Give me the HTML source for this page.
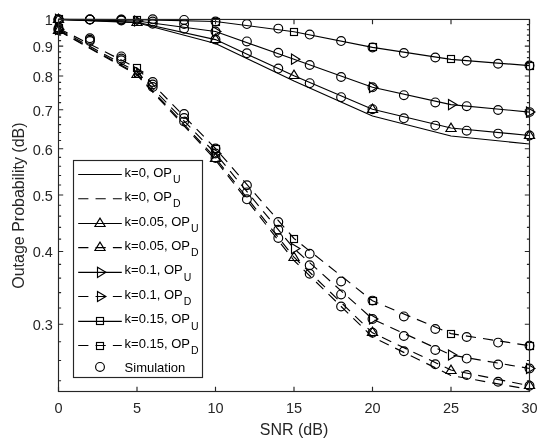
<!DOCTYPE html>
<html><head><meta charset="utf-8"><style>
html,body{margin:0;padding:0;background:#fff;}
body{width:550px;height:446px;overflow:hidden;}
svg{display:block;}
text{font-family:"Liberation Sans",Arial,sans-serif;fill:#262626;}
.tk{font-size:14.5px;}
.lg{font-size:13px;fill:#000;}
.lb{font-size:16px;}
</style></head><body>
<svg width="550" height="446" viewBox="0 0 550 446">
<rect width="550" height="446" fill="#fff"/>
<g fill="none" stroke="#000" stroke-width="1.15" stroke-linejoin="round">
<polyline points="58.50,19.40 137.00,19.60 215.50,21.50 294.00,31.70 372.50,47.40 451.00,59.40 529.50,65.60"/><polyline points="58.50,19.40 137.00,21.00 215.50,31.50 294.00,59.20 372.50,87.30 451.00,104.60 529.50,112.10"/><polyline points="58.50,19.40 137.00,22.20 215.50,39.60 294.00,75.80 372.50,109.20 451.00,128.00 529.50,135.50"/><polyline points="58.50,19.40 137.00,22.80 215.50,43.50 294.00,81.00 372.50,116.00 451.00,136.00 529.50,144.00"/>
</g>
<g fill="none" stroke="#000" stroke-width="1.15" stroke-dasharray="10.2 7.14" stroke-linejoin="round">
<polyline stroke-dashoffset="0.00" points="58.50,28.30 137.00,68.00 215.50,148.50 294.00,238.50 372.50,300.80 451.00,333.60 529.50,345.70"/><polyline stroke-dashoffset="0.00" points="58.50,29.30 137.00,72.00 215.50,153.50 294.00,248.60 372.50,319.00 451.00,355.00 529.50,368.50"/><polyline stroke-dashoffset="0.00" points="58.50,30.30 137.00,74.00 215.50,158.00 294.00,257.20 372.50,332.80 451.00,370.00 529.50,385.70"/><polyline stroke-dashoffset="0.00" points="58.50,30.80 137.00,75.00 215.50,160.00 294.00,260.50 372.50,337.00 451.00,375.50 529.50,389.50"/>
</g>
<g fill="none" stroke="#000" stroke-width="1.15">
<rect x="55.50" y="15.50" width="7" height="7"/><rect x="133.50" y="16.50" width="7" height="7"/><rect x="212.50" y="18.50" width="7" height="7"/><rect x="290.50" y="28.50" width="7" height="7"/><rect x="369.50" y="43.50" width="7" height="7"/><rect x="447.50" y="55.50" width="7" height="7"/><rect x="526.50" y="62.50" width="7" height="7"/><polygon points="63.90,19.40 55.50,14.30 55.50,24.50"/><polygon points="142.90,21.00 134.50,15.90 134.50,26.10"/><polygon points="220.90,31.50 212.50,26.40 212.50,36.60"/><polygon points="299.90,59.20 291.50,54.10 291.50,64.30"/><polygon points="377.90,87.30 369.50,82.20 369.50,92.40"/><polygon points="456.90,104.60 448.50,99.50 448.50,109.70"/><polygon points="534.90,112.10 526.50,107.00 526.50,117.20"/><polygon points="58.50,14.10 53.40,22.50 63.60,22.50"/><polygon points="137.00,17.10 131.90,25.50 142.10,25.50"/><polygon points="215.50,34.10 210.40,42.50 220.60,42.50"/><polygon points="294.00,70.10 288.90,78.50 299.10,78.50"/><polygon points="372.50,104.10 367.40,112.50 377.60,112.50"/><polygon points="451.00,123.10 445.90,131.50 456.10,131.50"/><polygon points="529.50,130.10 524.40,138.50 534.60,138.50"/><rect x="55.50" y="24.50" width="7" height="7"/><rect x="133.50" y="64.50" width="7" height="7"/><rect x="212.50" y="145.50" width="7" height="7"/><rect x="290.50" y="235.50" width="7" height="7"/><rect x="369.50" y="297.50" width="7" height="7"/><rect x="447.50" y="330.50" width="7" height="7"/><rect x="526.50" y="342.50" width="7" height="7"/><polygon points="63.90,29.30 55.50,24.20 55.50,34.40"/><polygon points="142.90,72.00 134.50,66.90 134.50,77.10"/><polygon points="220.90,153.50 212.50,148.40 212.50,158.60"/><polygon points="299.90,248.60 291.50,243.50 291.50,253.70"/><polygon points="377.90,319.00 369.50,313.90 369.50,324.10"/><polygon points="456.90,355.00 448.50,349.90 448.50,360.10"/><polygon points="534.90,368.50 526.50,363.40 526.50,373.60"/><polygon points="58.50,25.10 53.40,33.50 63.60,33.50"/><polygon points="137.00,69.10 131.90,77.50 142.10,77.50"/><polygon points="215.50,153.10 210.40,161.50 220.60,161.50"/><polygon points="294.00,252.10 288.90,260.50 299.10,260.50"/><polygon points="372.50,327.10 367.40,335.50 377.60,335.50"/><polygon points="451.00,365.10 445.90,373.50 456.10,373.50"/><polygon points="529.50,380.10 524.40,388.50 534.60,388.50"/><circle cx="58.50" cy="19.40" r="4.4"/><circle cx="89.90" cy="19.50" r="4.4"/><circle cx="121.30" cy="19.50" r="4.4"/><circle cx="152.70" cy="19.30" r="4.4"/><circle cx="184.10" cy="19.90" r="4.4"/><circle cx="215.50" cy="21.50" r="4.4"/><circle cx="246.90" cy="24.10" r="4.4"/><circle cx="278.30" cy="28.60" r="4.4"/><circle cx="309.70" cy="34.60" r="4.4"/><circle cx="341.10" cy="41.10" r="4.4"/><circle cx="372.50" cy="47.40" r="4.4"/><circle cx="403.90" cy="53.00" r="4.4"/><circle cx="435.30" cy="57.50" r="4.4"/><circle cx="466.70" cy="60.70" r="4.4"/><circle cx="498.10" cy="63.70" r="4.4"/><circle cx="529.50" cy="65.60" r="4.4"/><circle cx="58.50" cy="19.40" r="4.4"/><circle cx="89.90" cy="19.50" r="4.4"/><circle cx="121.30" cy="19.70" r="4.4"/><circle cx="152.70" cy="21.50" r="4.4"/><circle cx="184.10" cy="24.00" r="4.4"/><circle cx="215.50" cy="31.50" r="4.4"/><circle cx="246.90" cy="41.40" r="4.4"/><circle cx="278.30" cy="52.80" r="4.4"/><circle cx="309.70" cy="65.00" r="4.4"/><circle cx="341.10" cy="77.00" r="4.4"/><circle cx="372.50" cy="87.30" r="4.4"/><circle cx="403.90" cy="95.20" r="4.4"/><circle cx="435.30" cy="102.40" r="4.4"/><circle cx="466.70" cy="106.20" r="4.4"/><circle cx="498.10" cy="110.00" r="4.4"/><circle cx="529.50" cy="112.10" r="4.4"/><circle cx="58.50" cy="19.40" r="4.4"/><circle cx="89.90" cy="19.50" r="4.4"/><circle cx="121.30" cy="20.50" r="4.4"/><circle cx="152.70" cy="23.70" r="4.4"/><circle cx="184.10" cy="28.80" r="4.4"/><circle cx="215.50" cy="39.60" r="4.4"/><circle cx="246.90" cy="53.20" r="4.4"/><circle cx="278.30" cy="68.60" r="4.4"/><circle cx="309.70" cy="83.20" r="4.4"/><circle cx="341.10" cy="97.20" r="4.4"/><circle cx="372.50" cy="109.20" r="4.4"/><circle cx="403.90" cy="118.30" r="4.4"/><circle cx="435.30" cy="125.60" r="4.4"/><circle cx="466.70" cy="130.70" r="4.4"/><circle cx="498.10" cy="133.60" r="4.4"/><circle cx="529.50" cy="135.50" r="4.4"/><circle cx="58.50" cy="28.30" r="4.4"/><circle cx="89.90" cy="38.20" r="4.4"/><circle cx="121.30" cy="56.40" r="4.4"/><circle cx="152.70" cy="82.00" r="4.4"/><circle cx="184.10" cy="114.00" r="4.4"/><circle cx="215.50" cy="148.50" r="4.4"/><circle cx="246.90" cy="185.20" r="4.4"/><circle cx="278.30" cy="222.00" r="4.4"/><circle cx="309.70" cy="253.70" r="4.4"/><circle cx="341.10" cy="281.50" r="4.4"/><circle cx="372.50" cy="300.60" r="4.4"/><circle cx="403.90" cy="316.40" r="4.4"/><circle cx="435.30" cy="329.00" r="4.4"/><circle cx="466.70" cy="337.00" r="4.4"/><circle cx="498.10" cy="342.60" r="4.4"/><circle cx="529.50" cy="345.70" r="4.4"/><circle cx="58.50" cy="29.30" r="4.4"/><circle cx="89.90" cy="39.70" r="4.4"/><circle cx="121.30" cy="58.50" r="4.4"/><circle cx="152.70" cy="84.50" r="4.4"/><circle cx="184.10" cy="118.00" r="4.4"/><circle cx="215.50" cy="153.50" r="4.4"/><circle cx="246.90" cy="192.40" r="4.4"/><circle cx="278.30" cy="229.80" r="4.4"/><circle cx="309.70" cy="265.30" r="4.4"/><circle cx="341.10" cy="294.40" r="4.4"/><circle cx="372.50" cy="319.00" r="4.4"/><circle cx="403.90" cy="336.00" r="4.4"/><circle cx="435.30" cy="350.00" r="4.4"/><circle cx="466.70" cy="358.60" r="4.4"/><circle cx="498.10" cy="364.50" r="4.4"/><circle cx="529.50" cy="368.50" r="4.4"/><circle cx="58.50" cy="30.30" r="4.4"/><circle cx="89.90" cy="41.10" r="4.4"/><circle cx="121.30" cy="60.20" r="4.4"/><circle cx="152.70" cy="87.00" r="4.4"/><circle cx="184.10" cy="121.60" r="4.4"/><circle cx="215.50" cy="158.00" r="4.4"/><circle cx="246.90" cy="199.30" r="4.4"/><circle cx="278.30" cy="238.00" r="4.4"/><circle cx="309.70" cy="273.80" r="4.4"/><circle cx="341.10" cy="306.50" r="4.4"/><circle cx="372.50" cy="332.80" r="4.4"/><circle cx="403.90" cy="351.20" r="4.4"/><circle cx="435.30" cy="364.30" r="4.4"/><circle cx="466.70" cy="375.00" r="4.4"/><circle cx="498.10" cy="381.80" r="4.4"/><circle cx="529.50" cy="385.70" r="4.4"/>
</g>
<g fill="none" stroke="#262626" stroke-width="1.15">
<rect x="58.5" y="19.45" width="471.0" height="372.05"/>
<path d="M58.50 391.5V386.8M58.50 19.45V24.15M137.00 391.5V386.8M137.00 19.45V24.15M215.50 391.5V386.8M215.50 19.45V24.15M294.00 391.5V386.8M294.00 19.45V24.15M372.50 391.5V386.8M372.50 19.45V24.15M451.00 391.5V386.8M451.00 19.45V24.15M529.50 391.5V386.8M529.50 19.45V24.15M58.5 19.45H63.2M529.5 19.45H524.8M58.5 46.13H63.2M529.5 46.13H524.8M58.5 75.95H63.2M529.5 75.95H524.8M58.5 109.76H63.2M529.5 109.76H524.8M58.5 148.79H63.2M529.5 148.79H524.8M58.5 194.95H63.2M529.5 194.95H524.8M58.5 251.45H63.2M529.5 251.45H524.8M58.5 324.29H63.2M529.5 324.29H524.8M58.5 380.79H61.1M529.5 380.79H526.9M58.5 360.52H61.1M529.5 360.52H526.9M58.5 341.76H61.1M529.5 341.76H526.9M58.5 307.95H61.1M529.5 307.95H526.9M58.5 292.60H61.1M529.5 292.60H526.9M58.5 278.13H61.1M529.5 278.13H526.9M58.5 264.44H61.1M529.5 264.44H526.9M58.5 239.10H61.1M529.5 239.10H526.9M58.5 227.32H61.1M529.5 227.32H526.9M58.5 216.06H61.1M529.5 216.06H526.9M58.5 205.29H61.1M529.5 205.29H526.9M58.5 185.02H61.1M529.5 185.02H526.9M58.5 175.46H61.1M529.5 175.46H526.9M58.5 166.26H61.1M529.5 166.26H526.9M58.5 157.37H61.1M529.5 157.37H526.9M58.5 140.49H61.1M529.5 140.49H526.9M58.5 132.45H61.1M529.5 132.45H526.9M58.5 124.66H61.1M529.5 124.66H526.9M58.5 117.10H61.1M529.5 117.10H526.9M58.5 102.63H61.1M529.5 102.63H526.9M58.5 95.69H61.1M529.5 95.69H526.9M58.5 88.94H61.1M529.5 88.94H526.9M58.5 82.36H61.1M529.5 82.36H526.9M58.5 69.70H61.1M529.5 69.70H526.9M58.5 63.60H61.1M529.5 63.60H526.9M58.5 57.64H61.1M529.5 57.64H526.9M58.5 51.82H61.1M529.5 51.82H526.9M58.5 40.56H61.1M529.5 40.56H526.9M58.5 35.12H61.1M529.5 35.12H526.9M58.5 29.79H61.1M529.5 29.79H526.9M58.5 24.57H61.1M529.5 24.57H526.9"/>
</g>
<g class="tk"><text x="52.8" y="25.25" text-anchor="end">1</text><text x="52.8" y="51.93" text-anchor="end">0.9</text><text x="52.8" y="81.75" text-anchor="end">0.8</text><text x="52.8" y="115.56" text-anchor="end">0.7</text><text x="52.8" y="154.59" text-anchor="end">0.6</text><text x="52.8" y="200.75" text-anchor="end">0.5</text><text x="52.8" y="257.25" text-anchor="end">0.4</text><text x="52.8" y="330.09" text-anchor="end">0.3</text><text x="58.50" y="413.3" text-anchor="middle">0</text><text x="137.00" y="413.3" text-anchor="middle">5</text><text x="215.50" y="413.3" text-anchor="middle">10</text><text x="294.00" y="413.3" text-anchor="middle">15</text><text x="372.50" y="413.3" text-anchor="middle">20</text><text x="451.00" y="413.3" text-anchor="middle">25</text><text x="529.50" y="413.3" text-anchor="middle">30</text></g>
<text class="lb" x="294" y="434.5" text-anchor="middle">SNR (dB)</text>
<text class="lb" transform="translate(23.8,205.6) rotate(-90)" text-anchor="middle">Outage Probability (dB)</text>
<rect x="73.5" y="160.5" width="129.0" height="217.0" fill="#fff" stroke="#262626" stroke-width="1.15"/>
<path d="M78.2 174.50H121.8" stroke="#000" stroke-width="1.15"/><text x="124.6" y="176.50" class="lg">k=0, OP<tspan dx="1" dy="6.5" font-size="10.5">U</tspan></text><path d="M78.2 198.70H121.8" stroke="#000" stroke-width="1.15" stroke-dasharray="10.2 7.14"/><text x="124.6" y="200.70" class="lg">k=0, OP<tspan dx="1" dy="6.5" font-size="10.5">D</tspan></text><path d="M78.2 223.50H121.8" stroke="#000" stroke-width="1.15"/><g fill="none" stroke="#000" stroke-width="1.15"><polygon points="100.00,218.10 94.90,226.50 105.10,226.50"/></g><text x="124.6" y="225.50" class="lg">k=0.05, OP<tspan dx="1" dy="6.5" font-size="10.5">U</tspan></text><path d="M78.2 247.60H121.8" stroke="#000" stroke-width="1.15" stroke-dasharray="10.2 7.14"/><g fill="none" stroke="#000" stroke-width="1.15"><polygon points="100.00,242.10 94.90,250.50 105.10,250.50"/></g><text x="124.6" y="249.60" class="lg">k=0.05, OP<tspan dx="1" dy="6.5" font-size="10.5">D</tspan></text><path d="M78.2 272.30H121.8" stroke="#000" stroke-width="1.15"/><g fill="none" stroke="#000" stroke-width="1.15"><polygon points="105.90,272.30 97.50,267.20 97.50,277.40"/></g><text x="124.6" y="274.30" class="lg">k=0.1, OP<tspan dx="1" dy="6.5" font-size="10.5">U</tspan></text><path d="M78.2 296.50H121.8" stroke="#000" stroke-width="1.15" stroke-dasharray="10.2 7.14"/><g fill="none" stroke="#000" stroke-width="1.15"><polygon points="105.90,296.50 97.50,291.40 97.50,301.60"/></g><text x="124.6" y="298.50" class="lg">k=0.1, OP<tspan dx="1" dy="6.5" font-size="10.5">D</tspan></text><path d="M78.2 321.40H121.8" stroke="#000" stroke-width="1.15"/><g fill="none" stroke="#000" stroke-width="1.15"><rect x="96.50" y="317.50" width="7" height="7"/></g><text x="124.6" y="323.40" class="lg">k=0.15, OP<tspan dx="1" dy="6.5" font-size="10.5">U</tspan></text><path d="M78.2 345.50H121.8" stroke="#000" stroke-width="1.15" stroke-dasharray="10.2 7.14"/><g fill="none" stroke="#000" stroke-width="1.15"><rect x="96.50" y="342.50" width="7" height="7"/></g><text x="124.6" y="347.50" class="lg">k=0.15, OP<tspan dx="1" dy="6.5" font-size="10.5">D</tspan></text><g fill="none" stroke="#000" stroke-width="1.15"><circle cx="100.00" cy="366.90" r="4.4"/></g><text x="124.6" y="371.90" class="lg">Simulation</text>
</svg>
</body></html>
